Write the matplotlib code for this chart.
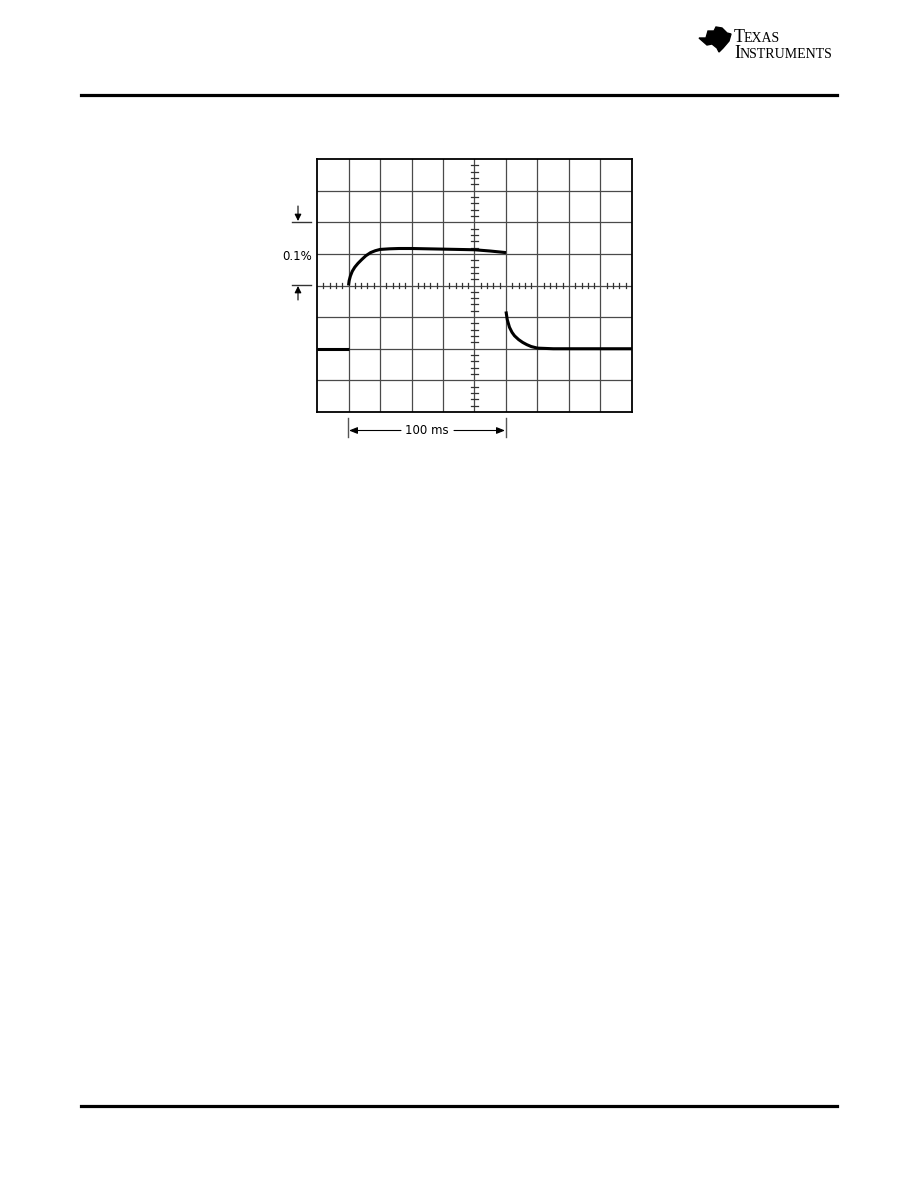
import matplotlib
matplotlib.use("Agg")
import matplotlib.pyplot as plt
from matplotlib.patches import Polygon, FancyArrowPatch
import numpy as np

# ---- data (in scope divisions) ----
idle_x = [0.0, 1.0]
idle_y = [-2.0, -2.0]

rise_x = [1.0, 1.02, 1.06, 1.12, 1.2, 1.3, 1.42, 1.55, 1.7, 1.85, 2.0, 2.3, 2.6, 3.0, 3.5, 4.0, 4.5, 5.0, 5.5, 6.0]
rise_y = [0.0, 0.15, 0.30, 0.45, 0.58, 0.70, 0.82, 0.94, 1.04, 1.10, 1.14, 1.16, 1.17, 1.17, 1.16, 1.15, 1.14, 1.13, 1.09, 1.04]

fall_x = [6.0, 6.04, 6.11, 6.19, 6.27, 6.4, 6.53, 6.66, 6.8, 7.0, 7.5, 8.0, 9.0, 10.0]
fall_y = [-0.82, -1.08, -1.32, -1.48, -1.59, -1.71, -1.80, -1.87, -1.93, -1.98, -2.0, -2.0, -2.0, -2.0]

n_xdiv = 10
n_ydiv = 8
scale_label = "0.1%"
time_label = "100 ms"

W, H = 918, 1188
fig = plt.figure(figsize=(W / 100, H / 100), dpi=100)

def fx(px):
    return px / W

def fy(py):
    return 1 - py / H

def arrow(p0, p1, hl=4, hw=2):
    fig.add_artist(FancyArrowPatch((fx(p0[0]), fy(p0[1])), (fx(p1[0]), fy(p1[1])),
                   transform=fig.transFigure, arrowstyle=f"-|>,head_length={hl},head_width={hw}",
                   color="black", lw=0.8, shrinkA=0, shrinkB=0, mutation_scale=1))

# header / footer rules
fig.add_artist(plt.Line2D([fx(81), fx(837)], [fy(94.5), fy(94.5)], color="black", lw=2.3))
fig.add_artist(plt.Line2D([fx(81), fx(837)], [fy(1105.5), fy(1105.5)], color="black", lw=2.3))

# TI logo (approximate)
logo = Polygon([[fx(699), fy(38)], [fx(706), fy(38)], [fx(708), fy(31)], [fx(714), fy(31)],
                [fx(716), fy(27)], [fx(722), fy(28)], [fx(727), fy(33)], [fx(731), fy(34)],
                [fx(729), fy(41)], [fx(723), fy(48)], [fx(719), fy(52)], [fx(717), fy(48)],
                [fx(712), fy(44)], [fx(707), fy(45)]],
               closed=True, transform=fig.transFigure, color="black")
fig.add_artist(logo)
fig.text(fx(734), fy(42), "T", fontsize=13, family="Liberation Serif", va="baseline", ha="left")
fig.text(fx(744), fy(42), "EXAS", fontsize=10, family="Liberation Serif", va="baseline", ha="left")
fig.text(fx(734), fy(58), "I", fontsize=13, family="Liberation Serif", va="baseline", ha="left")
fig.text(fx(739.5), fy(58), "NSTRUMENTS", fontsize=10, family="Liberation Serif", va="baseline", ha="left")

# scope axes
x0, x1, y0, y1 = 317, 632, 159, 412
ax = fig.add_axes([fx(x0), fy(y1), (x1 - x0) / W, (y1 - y0) / H])
ax.set_xlim(0, n_xdiv)
ax.set_ylim(-n_ydiv / 2, n_ydiv / 2)
ax.set_xticks([])
ax.set_yticks([])
for s in ax.spines.values():
    s.set_linewidth(1.3)
    s.set_color("black")

grid_col = "#4a4a4a"
for i in range(1, n_xdiv):
    ax.axvline(i, color=grid_col, lw=0.9, zorder=1)
for j in range(-n_ydiv // 2 + 1, n_ydiv // 2):
    ax.axhline(j, color=grid_col, lw=0.9, zorder=1)

# minor ticks on center axes
tx = 2.6 / ((x1 - x0) / n_xdiv)
ty = 2.6 / ((y1 - y0) / n_ydiv)
for k in range(n_xdiv * 5 + 1):
    if k % 5 == 0:
        continue
    xv = k * 0.2
    ax.plot([xv, xv], [-ty, ty], color="#333333", lw=0.9, zorder=1)
for k in range(n_ydiv * 5 + 1):
    if k % 5 == 0:
        continue
    yv = -n_ydiv / 2 + k * 0.2
    ax.plot([n_xdiv / 2 - tx * 1.2, n_xdiv / 2 + tx * 1.2], [yv, yv], color="#333333", lw=0.9, zorder=1)

# traces
for xs, ys in [(idle_x, idle_y), (rise_x, rise_y), (fall_x, fall_y)]:
    ax.plot(xs, ys, color="black", lw=2.2, solid_capstyle="butt", zorder=3)

# scale annotation on left
fig.add_artist(plt.Line2D([fx(292), fx(311)], [fy(222), fy(222)], color="#333333", lw=1.0))
fig.add_artist(plt.Line2D([fx(292), fx(311)], [fy(284.5), fy(284.5)], color="#333333", lw=1.0))
arrow((298, 206), (298, 221))
arrow((298, 300), (298, 286))
fig.text(fx(312), fy(256), scale_label, fontsize=8.5, ha="right", va="center", family="DejaVu Sans")

# time annotation bottom
fig.add_artist(plt.Line2D([fx(348), fx(348)], [fy(418), fy(437)], color="#555555", lw=1.0))
fig.add_artist(plt.Line2D([fx(506), fx(506)], [fy(418), fy(437)], color="#555555", lw=1.0))
fig.text(fx(427), fy(430.5), time_label, fontsize=8.5, ha="center", va="center", family="DejaVu Sans")
arrow((401, 430.5), (349, 430.5), hl=5, hw=2)
arrow((454, 430.5), (505, 430.5), hl=5, hw=2)

fig.savefig("out.png", dpi=100)
